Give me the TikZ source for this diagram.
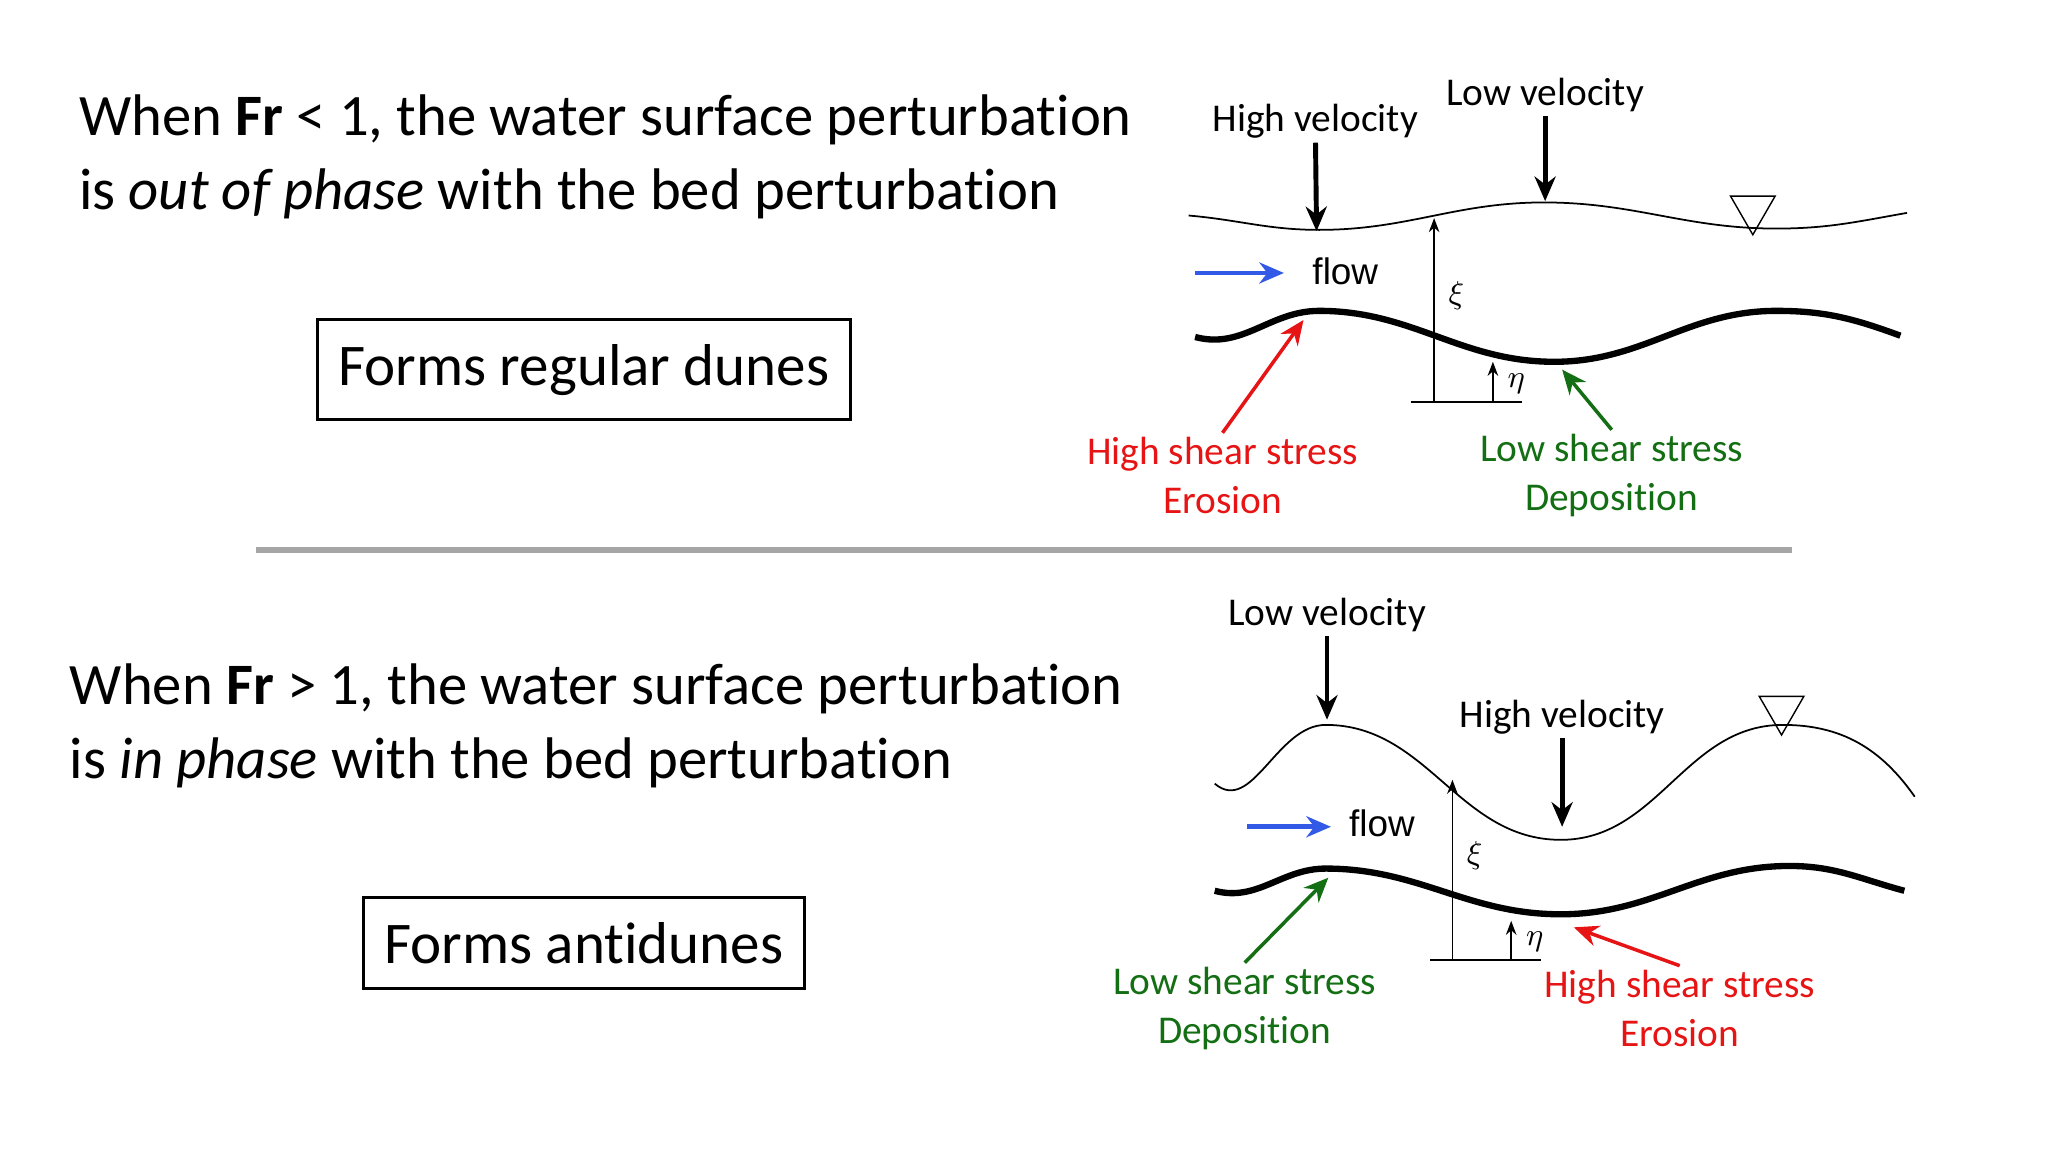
\documentclass[tikz,border=0pt]{standalone}
\usepackage{fontspec}
\setmainfont{Carlito}[Ligatures={NoCommon}]
\newfontfamily\flowfont{Liberation Sans}
\usetikzlibrary{arrows.meta,shapes.geometric}
\definecolor{shearred}{RGB}{230,20,20}
\definecolor{sheargreen}{RGB}{20,110,20}
\definecolor{flowblue}{RGB}{50,90,230}
\tikzset{
  title/.style={anchor=west,align=left,font=\fontsize{16.7}{21}\selectfont,inner sep=0pt},
  formbox/.style={draw,thick,font=\fontsize{16.8}{20}\selectfont,inner xsep=6pt,inner ysep=7pt},
  lbl/.style={font=\fontsize{11.2}{14}\selectfont,align=center,inner sep=1pt},
  vel/.style={-{Stealth[length=7pt,width=6pt]},line width=1.4pt},
  shear/.style={-{Stealth[length=7pt,width=6pt]},line width=1pt},
  flowarr/.style={-{Stealth[length=7pt,width=6pt]},line width=1.4pt,flowblue},
  bed/.style={line width=1.8pt},
  surf/.style={line width=0.5pt},
  thin/.style={line width=0.5pt},
  tip/.style={-{Stealth[length=4pt,width=3pt]},line width=0.5pt}
}
\begin{document}
\begin{tikzpicture}[x=0.013061cm,y=-0.013061cm]
\useasboundingbox (0,0) rectangle (1568,882);
% upper case
\node[title] (t1) at (60,120) {When \textbf{Fr} < 1, the water surface perturbation\\is \textit{out of phase} with the bed perturbation};
\node[formbox] (b1) at (447,283) {Forms regular dunes};
\draw[surf] (910,165) to[out=-5,in=180] (1010,176) to[out=0,in=180] (1182,155) to[out=0,in=180] (1360,175) to[out=0,in=190] (1460,163);
\draw[bed] (915,258) to[out=-15,in=180] (1010,238) to[out=0,in=180] (1190,277) to[out=0,in=180] (1360,238) to[out=0,in=160] (1455,257);
\node[isosceles triangle,shape border rotate=-90,isosceles triangle apex angle=60,draw,inner sep=0pt,minimum size=11pt] (w1) at (1342,160) {};
\node[lbl] (hv1) at (1007,93) {High velocity};
\node[lbl] (lv1) at (1183,73) {Low velocity};
\coordinate (hv1e) at (1008,177);
\coordinate (lv1e) at (1183,154);
\draw[vel] (hv1) -- (hv1e);
\draw[vel] (lv1) -- (lv1e);
\coordinate (f1s) at (915,209);
\coordinate (f1e) at (983,209);
\node[font=\flowfont\fontsize{10.5}{12}\selectfont] (f1) at (1030,208) {flow};
\draw[flowarr] (f1s) -- (f1e);
\coordinate (g1a) at (1080,308);
\coordinate (g1b) at (1165,308);
\coordinate (x1a) at (1098,308);
\coordinate (x1b) at (1098,167);
\coordinate (e1a) at (1143,308);
\coordinate (e1b) at (1143,277);
\draw[thin] (g1a) -- (g1b);
\draw[tip] (x1a) -- (x1b);
\draw[tip] (e1a) -- (e1b);
\node[font=\small] (xi1) at (1115,226) {$\xi$};
\node[font=\small] (eta1) at (1161,294) {$\eta$};
\node[lbl,shearred] (r1) at (936,364) {High shear stress\\Erosion};
\node[lbl,sheargreen] (g1) at (1234,364) {Low shear stress\\Deposition};
\coordinate (r1e) at (998,245);
\coordinate (g1e) at (1196,283);
\draw[shear,shearred] (r1.north) -- (r1e);
\draw[shear,sheargreen] (g1.north) -- (g1e);
% separator
\coordinate (sa) at (196,421);
\coordinate (sb) at (1372,421);
\draw[line width=1.6pt,black!35] (sa) -- (sb);
% lower case
\node[title] (t2) at (53,556) {When \textbf{Fr} > 1, the water surface perturbation\\is \textit{in phase} with the bed perturbation};
\node[formbox] (b2) at (447,722) {Forms antidunes};
\draw[surf] (930,600) to[out=-40,in=180] (1015,555) to[out=0,in=180] (1195,643) to[out=0,in=180] (1365,555) to[out=0,in=125] (1466,610);
\draw[bed] (930,682) to[out=-15,in=180] (1015,665) to[out=0,in=180] (1195,700) to[out=0,in=180] (1370,663) to[out=0,in=165] (1458,682);
\node[isosceles triangle,shape border rotate=-90,isosceles triangle apex angle=60,draw,inner sep=0pt,minimum size=11pt] (w2) at (1364,543) {};
\node[lbl] (lv2) at (1016,471) {Low velocity};
\node[lbl] (hv2) at (1196,549) {High velocity};
\coordinate (lv2e) at (1016,551);
\coordinate (hv2e) at (1196,633);
\draw[vel] (lv2) -- (lv2e);
\draw[vel] (hv2) -- (hv2e);
\coordinate (f2s) at (955,633);
\coordinate (f2e) at (1019,633);
\node[font=\flowfont\fontsize{10.5}{12}\selectfont] (f2) at (1058,630) {flow};
\draw[flowarr] (f2s) -- (f2e);
\coordinate (g2a) at (1095,735);
\coordinate (g2b) at (1180,735);
\coordinate (x2a) at (1112,735);
\coordinate (x2b) at (1112,597);
\coordinate (e2a) at (1157,735);
\coordinate (e2b) at (1157,705);
\draw[thin] (g2a) -- (g2b);
\draw[tip] (x2a) -- (x2b);
\draw[tip] (e2a) -- (e2b);
\node[font=\small] (xi2) at (1129,655) {$\xi$};
\node[font=\small] (eta2) at (1175,721) {$\eta$};
\node[lbl,sheargreen] (g2) at (953,772) {Low shear stress\\Deposition};
\node[lbl,shearred] (r2) at (1286,772) {High shear stress\\Erosion};
\coordinate (g2e) at (1017,672);
\coordinate (r2e) at (1205,710);
\draw[shear,sheargreen] (g2.north) -- (g2e);
\draw[shear,shearred] (r2.north) -- (r2e);
\end{tikzpicture}
\end{document}
